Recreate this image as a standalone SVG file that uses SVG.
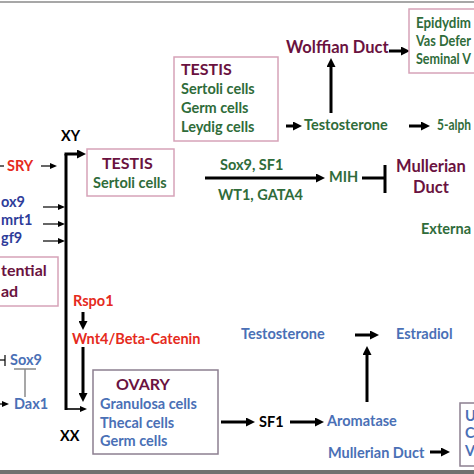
<svg xmlns="http://www.w3.org/2000/svg" width="474" height="474" viewBox="0 0 474 474">
<style>
text{font-family:Lato,"Liberation Sans",sans-serif;font-weight:bold;font-size:14.5px}
.mr{fill:#6a1240;font-size:16px}
.big{font-size:16.5px}
.gr{fill:#2f6c3a}
.rd{fill:#e52a20}
.db{fill:#2e3c9a}
.lb{fill:#4a70b6}
.bk{fill:#000}
.bp{fill:#fff;stroke:#d6a3b8;stroke-width:1.5}
.bg{fill:#fff;stroke:#8c7f90;stroke-width:1.5}
.t{stroke:#000;stroke-width:3;fill:none}
.n{stroke:#000;stroke-width:1.2;fill:none}
</style>
<defs>
<marker id="ah" markerUnits="userSpaceOnUse" markerWidth="9" markerHeight="9" refX="1" refY="4.5" orient="auto"><path d="M0,0 L9,4.5 L0,9 z" fill="#000"/></marker>
<marker id="as" markerUnits="userSpaceOnUse" markerWidth="7" markerHeight="6" refX="1" refY="3" orient="auto"><path d="M0,0 L7,3 L0,6 z" fill="#000"/></marker>
</defs>
<rect width="474" height="474" fill="#fff"/>
<line x1="0" y1="2" x2="474" y2="2" stroke="#8a8a8a" stroke-width="1.5"/>
<rect x="0" y="470" width="474" height="4" fill="#707070"/>

<g id="connectors">
<line class="t" x1="389" y1="51" x2="402" y2="51" marker-end="url(#ah)"/>
<line class="t" x1="331" y1="113" x2="331" y2="66" marker-end="url(#ah)"/>
<line class="t" x1="286" y1="126" x2="294" y2="126" marker-end="url(#ah)"/>
<line class="t" x1="409" y1="126" x2="422" y2="126" marker-end="url(#ah)"/>
<line class="t" x1="205" y1="178" x2="317" y2="178" marker-end="url(#ah)"/>
<line class="t" x1="362" y1="178" x2="385" y2="178"/>
<line class="t" x1="385" y1="165" x2="385" y2="193"/>
<line class="t" x1="66" y1="410" x2="66" y2="154"/>
<line class="t" x1="64.5" y1="154" x2="78" y2="154" marker-end="url(#ah)"/>
<line stroke="#000" stroke-width="1.6" x1="66" y1="409" x2="81" y2="409" marker-end="url(#as)"/>
<line class="n" x1="-5" y1="166" x2="4" y2="166"/>
<line class="n" x1="41" y1="166" x2="51" y2="166" marker-end="url(#as)"/>
<line class="n" x1="43" y1="207" x2="59" y2="207" marker-end="url(#as)"/>
<line class="n" x1="43" y1="224" x2="59" y2="224" marker-end="url(#as)"/>
<line class="n" x1="43" y1="241" x2="59" y2="241" marker-end="url(#as)"/>
<line class="t" x1="83" y1="312" x2="83" y2="322" marker-end="url(#ah)"/>
<line class="t" x1="83" y1="347" x2="83" y2="394" marker-end="url(#ah)"/>
<line class="t" x1="221" y1="422" x2="247" y2="422" marker-end="url(#ah)"/>
<line class="t" x1="290" y1="422" x2="316" y2="422" marker-end="url(#ah)"/>
<line class="t" x1="367" y1="402" x2="367" y2="354" marker-end="url(#ah)"/>
<line class="t" x1="355" y1="335" x2="371" y2="335" marker-end="url(#ah)"/>
<line class="t" x1="430" y1="452" x2="442" y2="452" marker-end="url(#ah)"/>
<line class="n" x1="-2" y1="360" x2="5" y2="360"/>
<line class="n" x1="5" y1="355" x2="5" y2="366"/>
<line stroke="#8a8a8a" stroke-width="1.5" x1="14" y1="369" x2="36" y2="369"/>
<line stroke="#8a8a8a" stroke-width="1.5" x1="25" y1="369" x2="25" y2="397"/>
<line class="n" x1="-2" y1="404" x2="3" y2="404" marker-end="url(#as)"/>
</g>

<g id="testis-top">
<rect class="bp" x="174" y="57" width="104" height="84"/>
<text class="mr" x="181" y="75">TESTIS</text>
<text class="gr" x="181" y="94">Sertoli cells</text>
<text class="gr" x="181" y="113">Germ cells</text>
<text class="gr" x="181" y="132">Leydig cells</text>
</g>
<g id="wolffian"><text class="mr big" x="286" y="53">Wolffian Duct</text></g>
<g id="epid">
<rect class="bp" x="409" y="9" width="80" height="64"/>
<text class="gr" x="416" y="28" textLength="55" lengthAdjust="spacingAndGlyphs">Epidydim</text>
<text class="gr" x="416" y="46" textLength="55" lengthAdjust="spacingAndGlyphs">Vas Defer</text>
<text class="gr" x="416" y="64" textLength="55" lengthAdjust="spacingAndGlyphs">Seminal V</text>
</g>
<g id="testosterone-m"><text class="gr" x="304" y="130">Testosterone</text></g>
<g id="alpha"><text class="gr" x="437" y="130" textLength="34" lengthAdjust="spacingAndGlyphs">5-alph</text></g>
<g id="testis-left">
<rect class="bp" x="87" y="149" width="87" height="47"/>
<text class="mr" x="102" y="169">TESTIS</text>
<text class="gr" x="93" y="188">Sertoli cells</text>
</g>
<g id="sox9sf1"><text class="gr" x="220" y="170">Sox9, SF1</text><text class="gr" x="218" y="200">WT1, GATA4</text></g>
<g id="mih"><text class="gr" x="329" y="182">MIH</text></g>
<g id="mullerian"><text class="mr big" x="396" y="172">Mullerian</text><text class="mr big" x="413" y="193">Duct</text></g>
<g id="external"><text class="gr" x="421" y="234" textLength="50" lengthAdjust="spacingAndGlyphs">Externa</text></g>
<g id="xy"><text class="bk" x="61" y="141">XY</text></g>
<g id="xx"><text class="bk" x="60" y="441">XX</text></g>
<g id="sry"><text class="rd" x="7" y="171">SRY</text></g>
<g id="genes">
<text class="db" x="1" y="207">ox9</text>
<text class="db" x="1" y="225">mrt1</text>
<text class="db" x="1" y="243">gf9</text>
</g>
<g id="potential">
<rect class="bp" x="-5" y="257" width="63" height="49"/>
<text class="mr" x="1" y="276">tential</text>
<text class="mr" x="1" y="297">ad</text>
</g>
<g id="rspo1"><text class="rd" x="73" y="306">Rspo1</text></g>
<g id="wnt4"><text class="rd" x="72" y="344">Wnt4/Beta-Catenin</text></g>
<g id="sox9b"><text class="lb" x="10" y="365">Sox9</text></g>
<g id="dax1"><text class="lb" x="14" y="409">Dax1</text></g>
<g id="ovary">
<rect class="bg" x="93" y="370" width="125" height="84"/>
<text class="mr" x="116" y="390">OVARY</text>
<text class="lb" x="100" y="409">Granulosa cells</text>
<text class="lb" x="100" y="428">Thecal cells</text>
<text class="lb" x="100" y="446">Germ cells</text>
</g>
<g id="sf1"><text class="bk" x="259" y="427">SF1</text></g>
<g id="aromatase"><text class="lb" x="327" y="426">Aromatase</text></g>
<g id="testosterone-f"><text class="lb" x="241" y="339">Testosterone</text></g>
<g id="estradiol"><text class="lb" x="396" y="339">Estradiol</text></g>
<g id="mullerian-f"><text class="lb" x="328" y="458">Mullerian Duct</text></g>
<g id="female-tract">
<rect class="bg" x="460" y="403" width="30" height="63"/>
<text class="lb" x="465" y="421">U</text>
<text class="lb" x="465" y="438">C</text>
<text class="lb" x="465" y="456">V</text>
</g>
</svg>
